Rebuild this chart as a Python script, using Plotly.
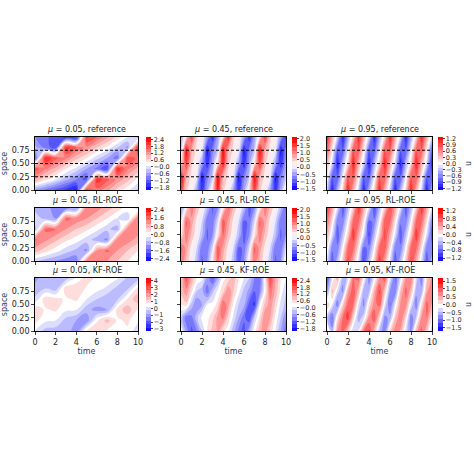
import plotly.graph_objects as go

time_coarse = [0, 1, 2, 3, 4, 5, 6, 7, 8, 9, 10]
space_coarse = [0.0, 0.2, 0.4, 0.6, 0.8, 1.0]
time_fine = [i * 0.5 for i in range(21)]
space_fine = [0.0, 0.25, 0.5, 0.75, 1.0]

ref05 = [
    [-0.6, -0.9, -1.2, -1.5, -1.8, 2.0, 1.5, 1.1, 0.6, 0.2, -0.3],
    [1.0, 0.5, 0.1, -0.4, -0.8, -1.3, 2.1, 1.7, 1.2, 0.8, 0.3],
    [1.8, 1.3, 0.9, 0.4, 0.0, -0.5, -0.9, -1.4, 2.2, 1.3, 0.9],
    [-1.2, 2.2, 1.7, 1.3, 0.8, 0.4, -0.1, -0.5, -1.0, 1.9, 1.5],
    [-0.4, -0.9, -1.3, 2.1, 1.6, 1.2, 0.7, 0.3, -0.2, -0.6, 2.1],
    [-0.8, -1.0, -1.3, -1.6, -1.8, 2.0, 1.6, 1.1, 0.6, 0.1, -0.4],
]
rl05 = [
    [-0.5, -0.8, -1.0, -1.2, -1.3, 1.2, 1.4, 1.0, 0.6, 0.2, -0.3],
    [0.8, 0.4, 0.0, -0.4, -0.7, -1.1, 1.0, 1.5, 1.0, 0.6, 0.2],
    [1.5, 1.1, 0.7, 0.3, 0.0, -0.4, -0.8, -1.1, 1.3, 1.2, 0.8],
    [-0.8, 1.5, 1.4, 1.0, 0.6, 0.3, -0.1, -0.5, -0.8, 1.3, 1.3],
    [-0.4, -0.7, -1.0, 1.5, 1.3, 1.0, 0.6, 0.2, -0.2, -0.5, 1.4],
    [-0.7, -0.9, -1.1, -1.3, -1.2, 1.3, 1.2, 0.8, 0.4, 0.0, -0.4],
]
kf05 = [
    [0.2, -0.5, -0.6, -0.4, -1.2, 0.8, 1.2, 0.6, 0.2, 0.6, -0.2],
    [0.9, 0.3, 0.2, -0.5, -0.8, -1.2, 0.6, 1.4, 0.6, 0.8, 0.3],
    [1.2, 0.6, 0.8, 0.3, 0.2, -0.6, -1.0, -0.8, 0.9, 1.5, 0.6],
    [-0.2, 1.0, 0.9, 0.6, 0.8, 0.2, -0.3, -0.7, -0.4, 0.8, 1.6],
    [-0.6, -0.3, -0.6, 1.0, 1.2, 0.6, 0.4, 0.1, -0.5, -0.4, 0.9],
    [-1.0, -0.4, -0.8, -0.6, 0.2, 1.0, 0.6, 0.5, 0.3, -0.4, -0.6],
]
ref45 = [
    [1.5, 0.45, 0.2, -0.5, -1.3, -0.45, 0.4, 1.7, 0.45, 0.2, -0.5, -1.3, -0.45, 0.4, 1.5, 0.45, 0.2, -0.5, -1.3, -0.45, 0.4],
    [1.8, 0.7, 0.3, 0.05, -1.4, -0.7, -0.25, 1.8, 0.7, 0.3, 0.05, -1.4, -0.7, -0.25, 1.8, 0.7, 0.3, 0.05, -1.4, -0.7, -0.25],
    [0.4, 1.5, 0.45, 0.2, -0.5, -1.3, -0.45, 0.4, 1.7, 0.45, 0.2, -0.5, -1.3, -0.45, 0.4, 1.5, 0.45, 0.2, -0.5, -1.3, -0.45],
    [-0.25, 1.8, 0.7, 0.3, 0.05, -1.4, -0.7, -0.25, 1.8, 0.7, 0.3, 0.05, -1.4, -0.7, -0.25, 1.8, 0.7, 0.3, 0.05, -1.4, -0.7],
    [-0.45, 0.4, 1.5, 0.45, 0.2, -0.5, -1.3, -0.45, 0.4, 1.7, 0.45, 0.2, -0.5, -1.3, -0.45, 0.4, 1.5, 0.45, 0.2, -0.5, -1.3],
]
rl45 = [
    [1.1, 0.6, 0.2, -0.3, -0.9, -0.6, 0.3, 1.2, 0.6, 0.2, -0.3, -1.0, -0.6, 0.3, 1.1, 0.6, 0.2, -0.3, -0.9, -0.6, 0.3],
    [1.2, 0.8, 0.3, -0.1, -0.8, -0.8, -0.1, 1.3, 0.8, 0.3, -0.1, -0.9, -0.8, -0.1, 1.2, 0.8, 0.3, -0.1, -0.8, -0.8, -0.1],
    [0.3, 1.1, 0.6, 0.2, -0.3, -0.9, -0.6, 0.3, 1.2, 0.6, 0.2, -0.3, -1.0, -0.6, 0.3, 1.1, 0.6, 0.2, -0.3, -0.9, -0.6],
    [-0.1, 1.2, 0.8, 0.3, -0.1, -0.8, -0.8, -0.1, 1.3, 0.8, 0.3, -0.1, -0.9, -0.8, -0.1, 1.2, 0.8, 0.3, -0.1, -0.8, -0.8],
    [-0.6, 0.3, 1.1, 0.6, 0.2, -0.3, -0.9, -0.6, 0.3, 1.2, 0.6, 0.2, -0.3, -1.0, -0.6, 0.3, 1.1, 0.6, 0.2, -0.3, -0.9],
]
kf45 = [
    [0.3, -0.6, -1.2, -0.8, -0.2, 0.4, 0.8, 1.0, 0.5, 0.2, -0.4, -0.9, -1.3, -0.5, 0.3, 0.9, 1.2, 0.6, 0.1, -0.5, -1.0],
    [-0.2, -1.0, -0.9, -0.3, 0.2, 0.3, 0.6, 1.1, 1.4, 0.6, 0.0, -0.5, -1.0, -1.4, -0.2, 0.5, 1.3, 1.0, 0.3, -0.2, -0.8],
    [0.4, 0.6, -0.3, -0.8, -0.5, 0.1, 0.2, 0.5, 1.6, 1.1, 0.3, -0.2, -0.4, -1.2, -1.5, 0.1, 0.8, 1.2, 0.6, 0.0, -0.3],
    [0.8, 1.2, 0.5, -0.2, -0.4, -1.0, -0.3, 0.2, 0.6, 1.3, 0.7, 0.2, -0.3, -0.6, -1.1, -0.8, 0.3, 1.5, 0.9, 0.3, -0.2],
    [0.6, 1.8, 1.0, 0.4, 0.2, -0.6, -1.2, -0.5, 0.3, 0.5, 0.9, 0.4, 0.1, -0.2, -0.8, -1.1, 0.4, 1.9, 1.0, 0.4, 0.1],
]
ref95 = [
    [-0.2, -1.1, -0.4, 0.2, 1.1, 0.4, -0.2, -1.1, -0.4, 0.2, 1.1, 0.4, -0.2, -1.1, -0.4, 0.2, 1.1, 0.4, -0.2, -1.1, -0.4],
    [0.1, -0.8, -0.8, -0.1, 0.8, 0.8, 0.1, -0.8, -0.8, -0.1, 0.8, 0.8, 0.1, -0.8, -0.8, -0.1, 0.8, 0.8, 0.1, -0.8, -0.8],
    [0.4, -0.2, -1.1, -0.4, 0.2, 1.1, 0.4, -0.2, -1.1, -0.4, 0.2, 1.1, 0.4, -0.2, -1.1, -0.4, 0.2, 1.1, 0.4, -0.2, -1.1],
    [0.8, 0.1, -0.8, -0.8, -0.1, 0.8, 0.8, 0.1, -0.8, -0.8, -0.1, 0.8, 0.8, 0.1, -0.8, -0.8, -0.1, 0.8, 0.8, 0.1, -0.8],
    [1.1, 0.4, -0.2, -1.1, -0.4, 0.2, 1.1, 0.4, -0.2, -1.1, -0.4, 0.2, 1.1, 0.4, -0.2, -1.1, -0.4, 0.2, 1.1, 0.4, -0.2],
]
rl95 = [
    [-0.2, -0.9, -0.4, 0.2, 0.9, 0.4, -0.2, -1.0, -0.4, 0.2, 1.0, 0.4, -0.2, -0.9, -0.4, 0.2, 0.9, 0.4, -0.2, -0.9, -0.4],
    [0.1, -0.7, -0.7, -0.1, 0.7, 0.7, 0.1, -0.8, -0.7, -0.1, 0.7, 0.8, 0.1, -0.7, -0.7, -0.1, 0.7, 0.7, 0.1, -0.7, -0.7],
    [0.4, -0.2, -0.9, -0.4, 0.2, 1.0, 0.4, -0.2, -1.0, -0.4, 0.2, 0.9, 0.4, -0.2, -0.9, -0.4, 0.2, 1.0, 0.4, -0.2, -0.9],
    [0.7, 0.1, -0.7, -0.7, -0.1, 0.7, 0.7, 0.1, -0.8, -0.7, -0.1, 0.8, 0.7, 0.1, -0.7, -0.7, -0.1, 0.7, 0.7, 0.1, -0.7],
    [1.0, 0.4, -0.2, -0.9, -0.4, 0.2, 1.0, 0.4, -0.2, -1.0, -0.4, 0.2, 0.9, 0.4, -0.2, -0.9, -0.4, 0.2, 1.0, 0.4, -0.2],
]
kf95 = [
    [0.2, -0.6, 0.6, 0.9, 0.3, -0.4, -0.2, 0.8, 1.1, 0.4, -0.5, -0.9, 0.2, 0.7, 0.5, -0.3, -0.8, 0.4, 0.9, 0.3, -0.4],
    [-0.4, -1.0, 0.1, 0.8, 1.2, 0.2, -0.6, -0.3, 0.6, 1.0, 0.2, -0.8, -0.6, 0.3, 0.8, 0.2, -0.9, -0.4, 0.6, 0.8, 0.0],
    [0.3, -0.2, -0.9, 0.2, 0.9, 0.8, -0.2, -0.8, 0.1, 0.7, 0.9, -0.2, -1.0, -0.2, 0.6, 0.7, -0.2, -0.9, 0.1, 0.9, 0.5],
    [-0.8, 0.4, -0.3, -0.8, 0.5, 1.0, 0.4, -0.6, -0.5, 0.4, 1.1, 0.3, -0.7, -0.9, 0.3, 0.9, 0.4, -0.6, -0.6, 0.5, 0.8],
    [-1.2, -0.2, 0.5, -0.6, -0.4, 0.8, 0.9, 0.0, -0.9, -0.2, 0.6, 1.0, -0.2, -1.0, -0.3, 0.6, 0.8, -0.3, -0.9, 0.2, 0.6],
]

titles = [
    ["<i>μ</i> = 0.05, reference", "<i>μ</i> = 0.45, reference", "<i>μ</i> = 0.95, reference"],
    ["<i>μ</i> = 0.05, RL-ROE", "<i>μ</i> = 0.45, RL-ROE", "<i>μ</i> = 0.95, RL-ROE"],
    ["<i>μ</i> = 0.05, KF-ROE", "<i>μ</i> = 0.45, KF-ROE", "<i>μ</i> = 0.95, KF-ROE"],
]
fields = [[ref05, ref45, ref95], [rl05, rl45, rl95], [kf05, kf45, kf95]]
cb_ticks = [
    [(-1.8, 2.4, 0.6), (-1.5, 2.0, 0.5), (-1.2, 1.2, 0.3)],
    [(-2.4, 2.4, 0.8), (-1.5, 2.0, 0.5), (-1.2, 1.2, 0.4)],
    [(-3, 4, 1), (-1.8, 2.4, 0.6), (-1.5, 1.5, 0.5)],
]
cb_range = [
    [(-2.0, 2.6), (-1.6, 2.1), (-1.28, 1.28)],
    [(-2.6, 2.6), (-1.6, 2.1), (-1.35, 1.35)],
    [(-3.3, 4.4), (-2.0, 2.6), (-1.7, 1.7)],
]
probe_positions = [0.25, 0.5, 0.75]
x_ticks = [0, 2, 4, 6, 8, 10]
y_ticks = [0.0, 0.25, 0.5, 0.75]

bwr = [[0, "rgb(0,0,255)"], [0.5, "rgb(255,255,255)"], [1, "rgb(255,0,0)"]]

W = 474
col_px = [(35, 138), (181, 286), (327, 432)]
row_px = [(137, 190), (208, 261), (278, 331)]
cb_px = [146, 292, 438]

fig = go.Figure()
layout = {}
FONT = "DejaVu Sans"
for r in range(3):
    for c in range(3):
        k = r * 3 + c + 1
        xa = "x" if k == 1 else f"x{k}"
        ya = "y" if k == 1 else f"y{k}"
        z = fields[r][c]
        if c == 0:
            xs, ys = time_coarse, space_coarse
        else:
            xs, ys = time_fine, space_fine
        t0, t1, ts = cb_ticks[r][c]
        n = int(round((t1 - t0) / ts))
        tv = [round(t0 + i * ts, 2) for i in range(n + 1)]
        tt = [(f"{v:.0f}" if ts >= 1 else f"{v:.1f}").replace("-", "−") for v in tv]
        zmin, zmax = cb_range[r][c]
        y0p, y1p = row_px[r]
        cb = dict(
            x=cb_px[c] / W, xanchor="left", thickness=5,
            y=1 - (y0p + y1p) / 2 / W, yanchor="middle", len=(y1p - y0p) / W,
            tickvals=tv, ticktext=tt, tickfont=dict(size=6.5, family=FONT, color="#222"),
            ticks="outside", ticklen=2, outlinewidth=0, xpad=0, ypad=0,
        )
        if c == 2:
            cb["title"] = dict(text="u", side="right", font=dict(size=8, family=FONT))
        fig.add_trace(go.Contour(
            x=xs, y=ys, z=z, xaxis=xa, yaxis=ya, colorscale=bwr,
            zmin=zmin, zmax=zmax, zauto=False, hoverinfo="skip",
            contours=dict(coloring="fill", start=zmin, end=zmax, size=ts / 2, showlines=False),
            line=dict(width=0, smoothing=1.3), colorbar=cb,
        ))
        x0p, x1p = col_px[c]
        layout["xaxis" if k == 1 else f"xaxis{k}"] = dict(
            domain=[x0p / W, x1p / W], anchor=ya, range=[0, 10],
            tickvals=x_ticks, showticklabels=(r == 2), ticks="outside", ticklen=3,
            showline=True, mirror=True, linecolor="black", linewidth=0.8, showgrid=False, zeroline=False,
            tickfont=dict(size=8, family=FONT, color="#222"),
            title=dict(text="time" if r == 2 else "", font=dict(size=8, family=FONT), standoff=2),
        )
        layout["yaxis" if k == 1 else f"yaxis{k}"] = dict(
            domain=[1 - y1p / W, 1 - y0p / W], anchor=xa, range=[0, 1],
            tickvals=y_ticks, ticktext=[f"{v:.2f}" for v in y_ticks], showticklabels=(c == 0),
            ticks="outside", ticklen=3,
            showline=True, mirror=True, linecolor="black", linewidth=0.8, showgrid=False, zeroline=False,
            tickfont=dict(size=8, family=FONT, color="#222"),
            title=dict(text="space" if c == 0 else "", font=dict(size=8, family=FONT), standoff=2),
        )
        fig.add_annotation(text=titles[r][c], xref="paper", yref="paper",
                           x=(x0p + x1p) / 2 / W, y=1 - (y0p - 1) / W,
                           xanchor="center", yanchor="bottom",
                           showarrow=False, font=dict(size=8, family=FONT, color="#222"))
        if r == 0:
            for p in probe_positions:
                fig.add_shape(type="line", xref=xa, yref=ya, x0=0, x1=10, y0=p, y1=p,
                              line=dict(color="black", width=1, dash="3px,2px"))

fig.update_layout(width=W, height=W, margin=dict(l=0, r=0, t=0, b=0, autoexpand=False),
                  paper_bgcolor="white", plot_bgcolor="white", showlegend=False, **layout)
fig.write_html("out.html", config={"displayModeBar": False},
               post_script="document.body.style.margin='0';")
